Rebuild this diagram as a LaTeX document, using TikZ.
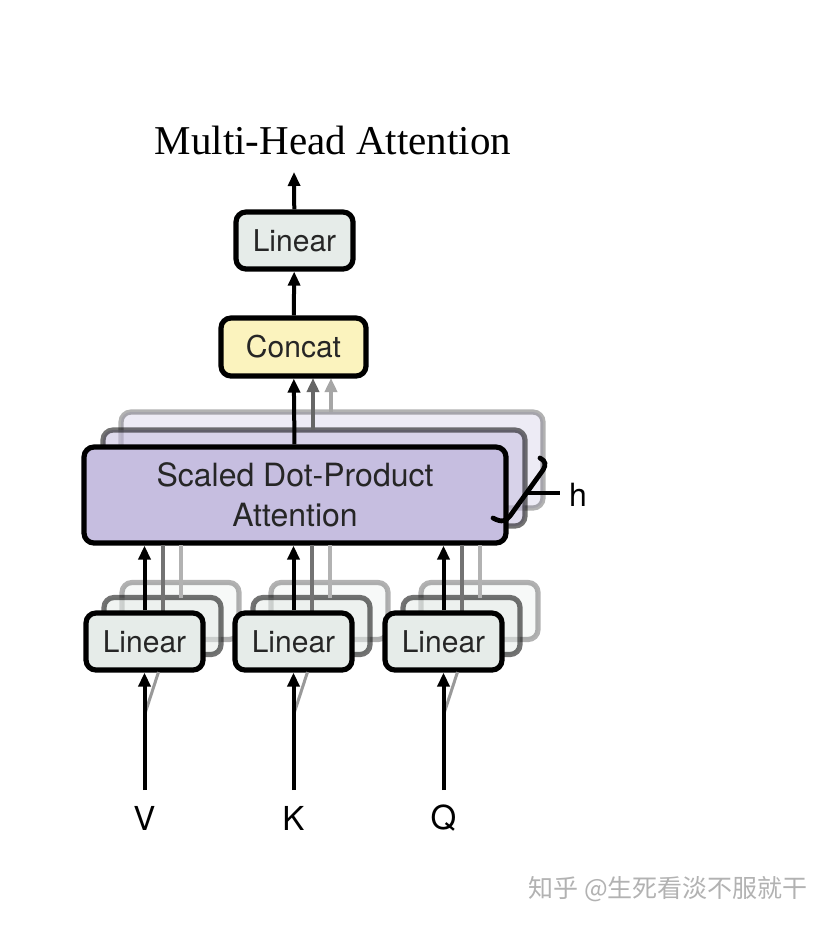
\documentclass[tikz,border=0pt]{standalone}
\usepackage{fontspec}
\setmainfont{TeX Gyre Heros}
\newfontfamily\titlefont{Liberation Serif}
\newfontfamily\cjk{Noto Sans CJK SC}
\usetikzlibrary{arrows.meta}
\definecolor{lingray}{HTML}{E6ECE9}
\definecolor{concaty}{HTML}{FBF3BE}
\definecolor{attp}{HTML}{C6BEE0}
\begin{document}
\begin{tikzpicture}[x=0.5pt,y=-0.5pt,
  box/.style={draw=black,line width=2.6pt,rounded corners=5pt,inner sep=0pt,font=\fontsize{15}{17}\selectfont,align=center,text=black!85},
  lin/.style={box,fill=lingray,minimum width=58.5pt,minimum height=28.5pt},
  att/.style={box,fill=attp,minimum width=211pt,minimum height=48pt,font=\fontsize{16}{20}\selectfont},
  ar/.style={line width=2pt,-{Triangle[length=7pt,width=6pt]}},
  ghost/.style={opacity=#1}]
\useasboundingbox (0,0) rectangle (834,926);
\fill[white] (0,0) rectangle (834,926);
\node[font=\titlefont\fontsize{20.5}{23}\selectfont] (title) at (333,140) {Multi-Head Attention};
% attention copies
\node[att,ghost=0.3] (att3) at (332,460) {};
\node[att,ghost=0.55] (att2) at (314,478) {};
\draw[ar,draw=black!35,fill=black!35] (331,412) -- (331,378);
\draw[ar,draw=black!60] (313,430) -- (313,378);
\node[att] (att) at (295,495) {Scaled Dot-Product\\Attention};
\node[lin] (top) at (294.5,240.5) {Linear};
\node[box,fill=concaty,minimum width=72.5pt,minimum height=29pt] (concat) at (293.5,347) {Concat};
\coordinate (out) at (294,172);
\draw[ar] (top) -- (out);
\draw[ar] (concat) -- (top);
\draw[ar] (att) -- (concat);
% h brace
\draw[line width=2.4pt,line cap=round] (493,518) .. controls (502,523) and (506,521) .. (510,516) -- (543,470) .. controls (546,465) and (546,461) .. (540,458);
\draw[line width=2pt] (525,493) -- (560,493);
\node[font=\fontsize{16}{18}\selectfont] (h) at (578,495) {h};
% linear columns
\foreach \n/\x/\lab in {v/144.5/V,k/293.5/K,q/443.5/Q}{
  \node[lin,ghost=0.3] (\n3) at (\x+36,611) {};
  \node[lin,ghost=0.55] (\n2) at (\x+18,626) {};
  \draw[line width=2pt,draw=black!30] (\x+36,598) -- (\x+36,545);
  \draw[line width=2pt,draw=black!55] (\x+18,612) -- (\x+18,545);
  \node[lin] (\n) at (\x,641.5) {Linear};
  \node[font=\fontsize{16.5}{18}\selectfont] (\n lab) at (\x,818) {\lab};
  \coordinate (\n in) at (\x,790);
  \draw[line width=1.5pt,draw=black!40] (\x+1,712) -- (\x+14,672);
  \draw[ar] (\n in) -- (\n);
  \draw[ar] (\n) -- (\n|-att.south);
}
\node[text=black!30,font=\cjk\fontsize{12.5}{14}\selectfont,anchor=east] (wm) at (815,889) {知乎 @生死看淡不服就干};
\end{tikzpicture}
\end{document}
